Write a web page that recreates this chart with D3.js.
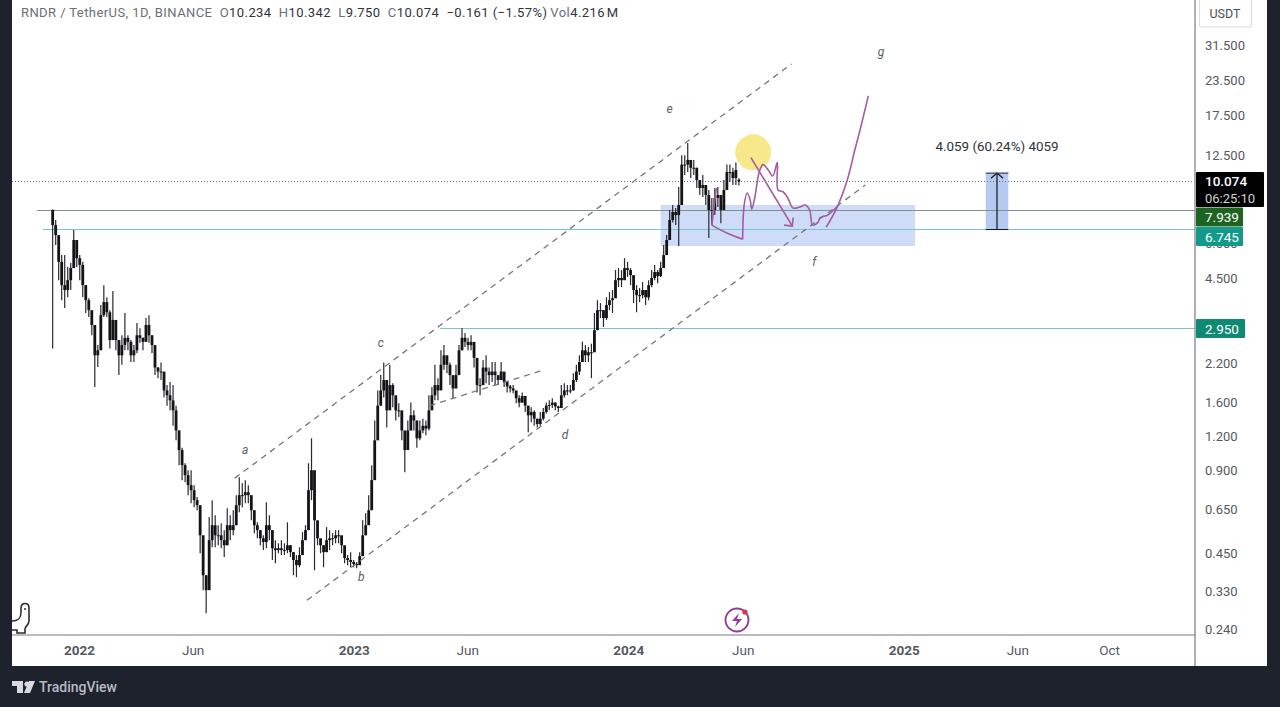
<!DOCTYPE html>
<html>
<head>
<meta charset="utf-8">
<script src="https://cdn.jsdelivr.net/npm/d3@7"></script>
<style>
  html, body { margin: 0; padding: 0; background: #1e222d; }
  svg { display: block; }
  text { font-family: Roboto, sans-serif; }
</style>
</head>
<body>
<svg id="chart" width="1280" height="707"></svg>
<script>
//--------------candle data, one candle every 4 days from 27 Nov 2021--------------//
var highs = [
  7.99,7.30,6.18,5.45,5.45,4.93,5.10,6.72,5.68,5.45,
  5.15,4.24,3.80,3.38,2.91,2.57,3.59,4.24,3.83,3.44,
  4.04,3.04,2.68,2.79,3.36,2.79,2.68,2.57,3.09,2.96,
  2.74,3.22,3.30,2.79,2.57,2.14,2.22,2.00,1.84,1.89,
  1.84,1.55,1.26,1.09,.958,.904,.904,.798,.722,.675,
  .445,.376,.611,.704,.621,.571,.580,.548,.658,.621,
  .647,.734,.853,.811,.832,.798,.722,.647,.585,.548,
  .525,.692,.621,.548,.504,.491,.504,.491,.585,.483,
  .456,.445,.475,.539,.571,.958,1.18,.765,.548,.504,
  .483,.562,.548,.534,.548,.548,.512,.452,.445,.456,
  .427,.420,.456,.595,.631,.734,.943,1.37,1.76,2.00,
  2.22,1.69,2.18,1.87,1.62,1.58,1.43,1.21,1.37,1.59,
  1.49,1.31,1.37,1.39,1.37,1.69,1.81,2.18,1.95,2.46,
  2.57,2.31,2.22,1.92,2.18,2.57,2.96,2.84,2.73,2.79,
  2.46,2.00,1.95,2.27,2.36,2.13,2.23,2.23,1.97,2.23,
  2.00,1.89,1.84,1.84,1.73,1.69,1.73,1.65,1.53,1.53,
  1.49,1.39,1.47,1.52,1.59,1.62,1.65,1.59,1.55,1.84,
  1.87,1.84,1.84,2.03,2.18,2.36,2.64,2.57,2.53,2.60,
  3.36,3.74,3.65,3.44,3.83,4.00,4.07,4.81,4.89,4.81,
  5.31,5.15,4.89,4.42,4.24,4.14,4.35,4.07,4.42,4.81,
  5.02,4.81,5.15,5.93,6.44,7.94,8.28,8.07,9.62,12.55,
  12.55,13.9,12.06,12.06,11.3,10.03,10.63,9.78,9.38,8.78,
  9.54,9.62,8.28,10.2,11.6,11.6,11.3,11.8,10.342
];
var lows = [
  2.50,5.93,4.42,3.74,3.50,3.83,4.07,5.31,4.93,4.42,
  3.83,3.36,3.25,2.79,1.81,2.14,2.84,3.25,3.25,2.50,
  2.79,2.46,2.00,2.18,2.46,2.46,2.23,2.23,2.40,2.62,
  2.46,2.68,2.62,2.40,2.00,1.95,1.92,1.66,1.55,1.49,
  1.31,1.16,.943,.832,.818,.734,.686,.663,.647,.452,
  .332,.274,.361,.475,.475,.483,.471,.438,.483,.504,
  .525,.571,.636,.663,.686,.686,.595,.534,.512,.483,
  .464,.471,.504,.427,.416,.452,.445,.445,.452,.438,
  .376,.370,.402,.445,.504,.548,.704,.392,.483,.452,
  .402,.456,.464,.483,.491,.491,.452,.416,.409,.402,
  .402,.399,.420,.456,.525,.595,.734,.904,1.31,1.55,
  1.66,1.29,1.55,1.53,1.37,1.41,1.16,.889,1.11,1.26,
  1.26,1.09,1.16,1.23,1.21,1.26,1.55,1.62,1.62,1.84,
  2.09,2.03,1.84,1.65,1.79,2.27,2.46,2.53,2.46,2.46,
  2.13,1.73,1.69,1.92,1.87,1.84,1.89,1.84,1.84,1.92,
  1.81,1.73,1.73,1.72,1.58,1.53,1.59,1.47,1.24,1.35,
  1.31,1.29,1.31,1.37,1.45,1.49,1.52,1.49,1.47,1.52,
  1.66,1.69,1.72,1.76,1.89,2.00,2.23,2.23,2.23,1.95,
  2.46,3.04,3.22,2.99,3.17,3.44,3.36,3.90,4.17,4.17,
  4.42,4.54,4.24,3.65,3.38,3.68,3.80,3.59,3.74,4.17,
  4.42,4.31,4.54,5.02,5.68,6.28,7.16,7.00,5.88,9.38,
  10.63,10.9,10.37,10.63,9.54,9.00,8.85,8.28,6.28,7.00,
  7.61,8.14,7.11,8.63,10.03,10.03,9.78,9.78,9.75
];
var closes = [
  7.00,6.44,5.15,4.24,4.07,4.42,4.89,6.18,5.31,5.02,
  4.24,3.74,3.44,3.04,2.36,2.46,3.30,3.68,3.38,2.68,
  3.17,2.68,2.36,2.57,2.73,2.64,2.36,2.46,2.79,2.73,
  2.64,3.04,2.79,2.57,2.13,2.06,2.06,1.76,1.69,1.62,
  1.49,1.26,1.07,.943,.867,.798,.765,.704,.675,.525,
  .376,.332,.504,.571,.525,.525,.504,.483,.571,.548,
  .571,.675,.734,.734,.752,.734,.647,.571,.548,.512,
  .496,.571,.548,.471,.464,.471,.464,.464,.483,.456,
  .427,.409,.445,.504,.548,.765,.904,.595,.512,.483,
  .456,.504,.512,.512,.525,.525,.483,.434,.427,.420,
  .413,.409,.441,.525,.571,.647,.832,1.16,1.55,1.76,
  1.92,1.49,1.84,1.69,1.49,1.49,1.26,1.07,1.26,1.43,
  1.37,1.18,1.26,1.31,1.28,1.49,1.69,1.84,1.76,2.18,
  2.36,2.18,2.00,1.79,2.00,2.46,2.73,2.64,2.57,2.64,
  2.31,1.84,1.84,2.13,2.06,2.00,2.06,2.00,1.92,2.06,
  1.89,1.82,1.79,1.76,1.65,1.59,1.68,1.55,1.43,1.47,
  1.39,1.33,1.39,1.47,1.55,1.56,1.59,1.54,1.52,1.69,
  1.76,1.76,1.76,1.92,2.06,2.23,2.46,2.36,2.42,2.42,
  2.91,3.44,3.44,3.22,3.59,3.74,3.80,4.42,4.50,4.42,
  4.89,4.81,4.61,4.07,3.90,3.90,4.07,3.83,4.24,4.50,
  4.73,4.57,4.89,5.45,6.18,7.30,7.81,7.61,8.28,11.6,
  11.6,12.06,11.3,11.3,10.2,9.54,9.78,9.00,7.94,7.94,
  8.78,9.00,7.94,9.38,10.9,10.9,10.37,11.09,10.074
];
var lastOpen = 10.234;

//--------------axis labels--------------//
var priceTicks = [31.5, 23.5, 17.5, 12.5, 6, 4.5, 2.2, 1.6, 1.2, 0.9, 0.65, 0.45, 0.33, 0.24];
var timeTicks = ["2022-01-01", "2022-06-01", "2023-01-01", "2023-06-01", "2024-01-01", "2024-06-01", "2025-01-01", "2025-06-01", "2025-10-01"];
var timeLabels = ["2022", "Jun", "2023", "Jun", "2024", "Jun", "2025", "Jun", "Oct"];

//--------------drawings on the chart, [days since 1 Jan 2022, price]--------------//
var channelUpper = [[207, 0.846], [947, 26.9]];
var channelLower = [[303, 0.305], [1045, 9.78]];
var channelMiddle = [[466, 1.55], [613, 2.07]];
var levels = [
  { start: -56, price: 7.939, color: "#7f9188" },
  { start: -48, price: 6.745, color: "#78c8c8" },
  { start: 480, price: 2.95, color: "#78c8c8" }
];
var zoneDays = [773, 1111];
var zonePrices = [8.28, 5.88];
var measureDays = [1205, 1235];
var measurePrices = [6.745, 10.804];
var circlePoint = [896, 12.85];
// three strokes, the pen turned sharply where one ends and the next starts
var purpleStart = [[847, 9.54], [841, 7.0]];
var purpleDip = [[841, 7.0], [861, 6.55], [882, 6.22]];
var purpleWave = [
  [882, 6.22], [884, 8.28], [888, 9.15], [892, 8.63], [894, 8.0],
  [898, 8.78], [904, 10.9], [909, 11.6], [916, 11.09], [922, 10.55], [928, 11.8], [929, 9.38], [936, 9.23],
  [942, 8.78], [949, 8.07], [958, 8.14], [965, 8.28], [971, 7.94], [975, 7.0], [982, 7.16], [985, 7.45],
  [995, 7.61], [1007, 8.14]
];
var purpleArrow = [[893, 12.3], [948, 6.94]];
var purpleHead = [[937, 7.0], [948, 6.94], [949, 7.45]];
var purpleRise = [[993, 6.88], [1007, 8.07], [1021, 10.2], [1031, 13.1], [1038, 15.5], [1049, 20.6]];
var waveLabels = [
  { t: "a", d: 221, p: 1.06 }, { t: "b", d: 375, p: 0.367 }, { t: "c", d: 401, p: 2.59 },
  { t: "d", d: 646, p: 1.2 }, { t: "e", d: 785, p: 18.3 }, { t: "f", d: 977, p: 5.1 }, { t: "g", d: 1066, p: 29.4 }
];

//--------------layout and scales--------------//
var svg = d3.select("#chart");
var left = 12, right = 1195, axisRight = 1267, plotBottom = 635, pageBottom = 666;

var x = d3.scaleTime()
  .domain([new Date(2022, 0, 1), new Date(2025, 0, 1)])
  .range([79, 903.7]);
var y = d3.scaleLog()
  .domain([31.5, 0.24])
  .range([45, 629]);

function day(n) {
  return d3.timeDay.offset(new Date(2022, 0, 1), n);
}
function xDay(n) {
  return x(day(n));
}

//--------------page frame--------------//
svg.append("rect").attr("width", 1280).attr("height", 707).attr("fill", "#1e222d");
svg.append("rect").attr("x", left).attr("y", 0)
  .attr("width", axisRight - left).attr("height", pageBottom).attr("fill", "#ffffff");

//--------------zone and measure boxes sit under the candles--------------//
svg.append("rect")
  .attr("x", xDay(zoneDays[0])).attr("y", y(zonePrices[0]))
  .attr("width", xDay(zoneDays[1]) - xDay(zoneDays[0]))
  .attr("height", y(zonePrices[1]) - y(zonePrices[0]))
  .attr("fill", "#cfdcf8");

svg.append("rect")
  .attr("x", xDay(measureDays[0])).attr("y", y(measurePrices[1]))
  .attr("width", xDay(measureDays[1]) - xDay(measureDays[0]))
  .attr("height", y(measurePrices[0]) - y(measurePrices[1]))
  .attr("fill", "#b6caf1");

svg.append("circle")
  .attr("cx", xDay(circlePoint[0])).attr("cy", y(circlePoint[1])).attr("r", 18)
  .attr("fill", "#f8e88c");

//--------------horizontal levels--------------//
svg.append("line")
  .attr("x1", left).attr("x2", right)
  .attr("y1", y(10.074)).attr("y2", y(10.074))
  .attr("stroke", "#6e7480").attr("stroke-dasharray", "1,2");

svg.selectAll(".level").data(levels).enter().append("line")
  .attr("class", "level")
  .attr("x1", d => xDay(d.start)).attr("x2", right)
  .attr("y1", d => Math.floor(y(d.price)) + 0.5).attr("y2", d => Math.floor(y(d.price)) + 0.5)
  .attr("stroke", d => d.color).attr("stroke-width", 1.2);

//--------------candles--------------//
var candles = closes.map(function (c, i) {
  return {
    date: d3.timeDay.offset(new Date(2021, 10, 27), i * 4),
    open: i == 0 ? 7.94 : (i == closes.length - 1 ? lastOpen : closes[i - 1]),
    close: c,
    high: highs[i],
    low: lows[i]
  };
});

svg.append("g").selectAll("line").data(candles).enter().append("line")
  .attr("x1", d => x(d.date)).attr("x2", d => x(d.date))
  .attr("y1", d => y(d.high)).attr("y2", d => y(d.low))
  .attr("stroke", "#2a2a2e").attr("stroke-width", 1.2);

svg.append("g").selectAll("rect").data(candles).enter().append("rect")
  .attr("x", d => x(d.date) - 1.4)
  .attr("width", 2.8)
  .attr("y", d => Math.min(y(d.open), y(d.close)))
  .attr("height", d => Math.max(1, Math.abs(y(d.open) - y(d.close))))
  .attr("fill", "#141417");

//--------------channel lines--------------//
var straight = d3.line().x(d => xDay(d[0])).y(d => y(d[1]));

[channelUpper, channelLower, channelMiddle].forEach(function (pts) {
  svg.append("path")
    .attr("d", straight(pts))
    .attr("fill", "none")
    .attr("stroke", "#73777f")
    .attr("stroke-width", 1.3)
    .attr("stroke-dasharray", "6,5");
});

//--------------hand drawn purple lines--------------//
var curvy = d3.line().x(d => xDay(d[0])).y(d => y(d[1])).curve(d3.curveCatmullRom.alpha(0.5));

[purpleStart, purpleDip, purpleWave, purpleRise].forEach(function (pts) {
  svg.append("path")
    .attr("d", curvy(pts))
    .attr("fill", "none").attr("stroke", "#a25ca3").attr("stroke-width", 1.6);
});
[purpleArrow, purpleHead].forEach(function (pts) {
  svg.append("path")
    .attr("d", straight(pts))
    .attr("fill", "none").attr("stroke", "#a25ca3").attr("stroke-width", 1.6);
});

//--------------measure arrow and text--------------//
var arrowDay = (measureDays[0] + measureDays[1]) / 2;
svg.append("path")
  .attr("d", straight([[arrowDay, measurePrices[0]], [arrowDay, measurePrices[1]]]))
  .attr("stroke", "#15151a").attr("stroke-width", 1.2).attr("fill", "none");
svg.append("path")
  .attr("d", straight([[arrowDay - 8, 10.35], [arrowDay, measurePrices[1]], [arrowDay + 8, 10.35]]))
  .attr("stroke", "#15151a").attr("stroke-width", 1.2).attr("fill", "none");
svg.append("line")
  .attr("x1", xDay(measureDays[0])).attr("x2", xDay(measureDays[1]))
  .attr("y1", y(measurePrices[0])).attr("y2", y(measurePrices[0]))
  .attr("stroke", "#15151a");
svg.append("line")
  .attr("x1", xDay(measureDays[0])).attr("x2", xDay(measureDays[1]))
  .attr("y1", y(measurePrices[1])).attr("y2", y(measurePrices[1]))
  .attr("stroke", "#2f3b5c").attr("stroke-width", 1.2);

svg.append("text")
  .attr("x", xDay(arrowDay)).attr("y", 151)
  .attr("text-anchor", "middle")
  .attr("font-size", 13.4).attr("fill", "#2f323a")
  .text("4.059 (60.24%) 4059");

//--------------wave labels--------------//
svg.selectAll(".wave").data(waveLabels).enter().append("text")
  .attr("class", "wave")
  .attr("x", d => xDay(d.d)).attr("y", d => y(d.p))
  .attr("text-anchor", "middle").attr("dominant-baseline", "middle")
  .attr("font-size", 12).attr("font-style", "italic")
  .attr("fill", "#5a5e66")
  .text(d => d.t);

//--------------axes--------------//
var priceAxis = svg.append("g")
  .attr("transform", "translate(" + right + ",0)")
  .call(d3.axisRight(y).tickValues(priceTicks).tickSize(0).tickPadding(10).tickFormat(d3.format(".3f")));
priceAxis.select(".domain").remove();
priceAxis.selectAll("text").attr("font-size", 13).attr("fill", "#555962").style("font-family", "Roboto, sans-serif");

var timeAxis = svg.append("g")
  .attr("transform", "translate(0," + plotBottom + ")")
  .call(d3.axisBottom(x).tickValues(timeTicks.map(d3.isoParse)).tickSize(0).tickPadding(10).tickFormat((d, i) => timeLabels[i]));
timeAxis.select(".domain").remove();
timeAxis.selectAll("text")
  .attr("font-size", 13.5)
  .attr("fill", "#555962")
  .attr("font-weight", (d, i) => /^\d+$/.test(timeLabels[i]) ? 700 : 400)
  .style("font-family", "Roboto, sans-serif");

svg.append("line").attr("x1", left).attr("x2", right).attr("y1", plotBottom).attr("y2", plotBottom).attr("stroke", "#777b84").attr("stroke-width", 1.2);
svg.append("line").attr("x1", right).attr("x2", right).attr("y1", 0).attr("y2", pageBottom).attr("stroke", "#777b84").attr("stroke-width", 1.2);

//--------------price tags--------------//
var tags = [
  { text: "7.939", price: 7.939, shift: 7, color: "#1d6421", width: 47 },
  { text: "6.745", price: 6.745, shift: 7, color: "#139a8b", width: 47 },
  { text: "2.950", price: 2.95, shift: 0, color: "#0e8a72", width: 49 }
];
tags.forEach(function (t) {
  var cy = y(t.price) + t.shift;
  svg.append("rect").attr("x", right + 1).attr("y", cy - 9.5)
    .attr("width", t.width).attr("height", 19).attr("rx", 1).attr("fill", t.color);
  svg.append("text").attr("x", right + 10).attr("y", cy + 5)
    .attr("font-size", 13.5).attr("fill", "#ffffff").text(t.text);
});

svg.append("rect").attr("x", right + 1).attr("y", 172).attr("width", 68).attr("height", 35).attr("rx", 1).attr("fill", "#000000");
svg.append("text").attr("x", right + 10).attr("y", 186).attr("font-size", 13.5).attr("font-weight", 500).attr("fill", "#ffffff").text("10.074");
svg.append("text").attr("x", right + 10).attr("y", 203).attr("font-size", 13).attr("fill", "#d0d0d0").text("06:25:10");

//--------------currency box--------------//
svg.append("rect").attr("x", 1199.5).attr("y", -2).attr("width", 52).attr("height", 29).attr("rx", 2)
  .attr("fill", "#ffffff").attr("stroke", "#d8dae0");
svg.append("text").attr("x", 1225).attr("y", 18).attr("text-anchor", "middle")
  .attr("font-size", 12.5).attr("fill", "#4a4e57").text("USDT");

//--------------header legend--------------//
var legend = svg.append("text").attr("x", 21).attr("y", 17).attr("font-size", 13).attr("letter-spacing", 0.42).attr("fill", "#6b6f78").attr("xml:space", "preserve");
legend.append("tspan").text("RNDR / TetherUS, 1D, BINANCE  O");
legend.append("tspan").attr("fill", "#30333a").text("10.234");
legend.append("tspan").text("  H");
legend.append("tspan").attr("fill", "#30333a").text("10.342");
legend.append("tspan").text("  L");
legend.append("tspan").attr("fill", "#30333a").text("9.750");
legend.append("tspan").text("  C");
legend.append("tspan").attr("fill", "#30333a").text("10.074  \u22120.161 (\u22121.57%)");
legend.append("tspan").attr("dx", 3).text("Vol");
legend.append("tspan").attr("fill", "#30333a").text("4.216\u200AM");

//--------------small icons--------------//
// pine icon bottom left
svg.append("path")
  .attr("d", "M12,621 C18,621 21,619 21,612 L21,608 C21,602 29,602 29,608 L29,621 C29,625 25,626 25,629 L25,633 L17,633 L17,630 L12,630")
  .attr("fill", "#ffffff").attr("stroke", "#2b2e36").attr("stroke-width", 1.6);
svg.append("circle").attr("cx", 25).attr("cy", 609).attr("r", 1).attr("fill", "#2b2e36");

// purple flash icon
svg.append("circle").attr("cx", 737).attr("cy", 620).attr("r", 11.5).attr("fill", "#ffffff").attr("stroke", "#8e3f97").attr("stroke-width", 1.8);
svg.append("path").attr("d", "M739,613 L732,621 L737,621 L735,627 L742,619 L737,619 Z").attr("fill", "#8e3f97");
svg.append("circle").attr("cx", 745).attr("cy", 612).attr("r", 2.6).attr("fill", "#e0323e");

//--------------TradingView footer--------------//
svg.append("path").attr("d", "M12,681 L23,681 L23,693 L17,693 L17,686 L12,686 Z").attr("fill", "#d8dae0");
svg.append("circle").attr("cx", 27).attr("cy", 684).attr("r", 2.6).attr("fill", "#d8dae0");
svg.append("path").attr("d", "M29,681 L35,681 L30,693 L24,693 Z").attr("fill", "#d8dae0");
svg.append("text").attr("x", 39).attr("y", 692).attr("font-size", 14).attr("font-weight", 500).attr("fill", "#b8bbc4").text("TradingView");
</script>
</body>
</html>
